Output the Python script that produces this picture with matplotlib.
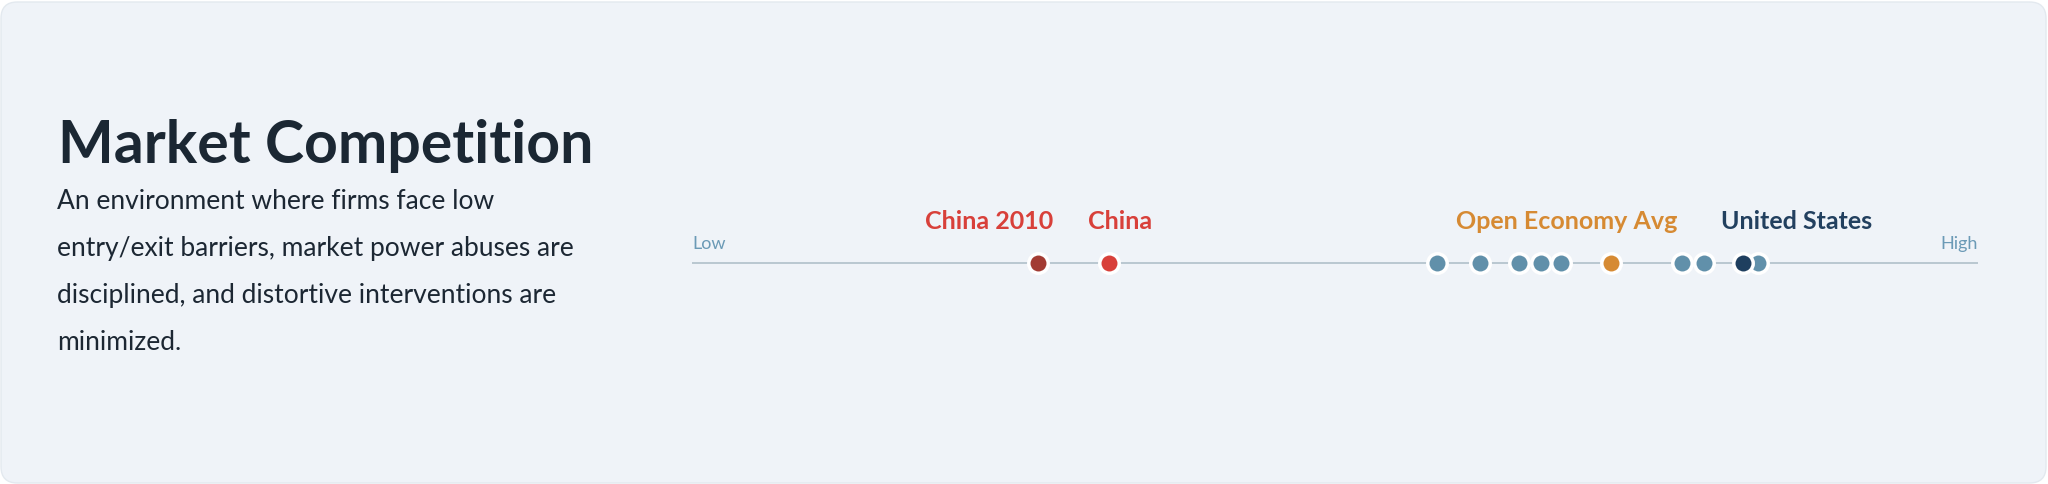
import matplotlib
matplotlib.use("Agg")
import matplotlib.pyplot as plt
from matplotlib.patches import FancyBboxPatch

plt.rcParams["font.family"] = ["Lato", "DejaVu Sans"]

# ---- data (0 = Low, 100 = High) ----
peer_scores = [57.9, 61.3, 64.3, 66.0, 67.6, 77.0, 78.7, 82.9]
highlight_names = ["China 2010", "China", "Open Economy Avg", "United States"]
highlight_scores = [26.9, 32.4, 71.5, 81.7]
highlight_colors = ["#a23b33", "#d8403a", "#d68a33", "#1f3f5f"]
label_colors = ["#d8403a", "#d8403a", "#d68a33", "#22405f"]
label_dx = [-49, 11, -45, 54]  # px nudges so labels don't collide

title = "Market Competition"
description_lines = ["An environment where firms face low",
                     "entry/exit barriers, market power abuses are",
                     "disciplined, and distortive interventions are",
                     "minimized."]

W, H = 2048, 484
fig = plt.figure(figsize=(W / 100, H / 100), dpi=100)
fig.patch.set_facecolor("white")

card = FancyBboxPatch((1 / W, 1 / H), (W - 3) / W, (H - 3) / H,
                      boxstyle="round,pad=0,rounding_size=0.008",
                      transform=fig.transFigure, facecolor="#eff3f8",
                      edgecolor="#e3e9ef", lw=1, mutation_aspect=W / H, zorder=-5)
fig.patches.append(card)

fig.text(58 / W, 1 - 163 / H, title, fontsize=42.5, fontweight="bold",
         color="#1b2733", ha="left", va="baseline")
for i, line in enumerate(description_lines):
    fig.text(57 / W, 1 - (209 + 47 * i) / H, line, fontsize=19, color="#1c2733",
             ha="left", va="baseline")

# strip axis: x in score units, y in pixels from top
x0, x1 = 692, 1978
ax = fig.add_axes([x0 / W, 0, (x1 - x0) / W, 1])
ax.set_xlim(0, 100)
ax.set_ylim(H, 0)
ax.axis("off")
line_y = 262.7
ax.plot([0, 100], [line_y, line_y], color="#b5c4cd", lw=1.3, zorder=1)

ax.text(0, 244, "Low", fontsize=13, color="#6b9ab6", ha="left", va="center")
ax.text(100, 244, "High", fontsize=13, color="#6b9ab6", ha="right", va="center")

for i, s in enumerate(peer_scores):
    ax.plot(s, line_y, "o", ms=14, mfc="#6190aa", mec="white", mew=2.5, zorder=2 + i * 0.01)

for name, s, c, lc, dx in zip(highlight_names, highlight_scores, highlight_colors,
                              label_colors, label_dx):
    ax.plot(s, line_y, "o", ms=14, mfc=c, mec="white", mew=2.5, zorder=3)
    ax.annotate(name, xy=(s, line_y), xytext=(dx, 41), textcoords="offset pixels",
                ha="center", va="center", fontsize=18, fontweight="bold", color=lc)

fig.savefig("out.png", dpi=100, facecolor="white")
